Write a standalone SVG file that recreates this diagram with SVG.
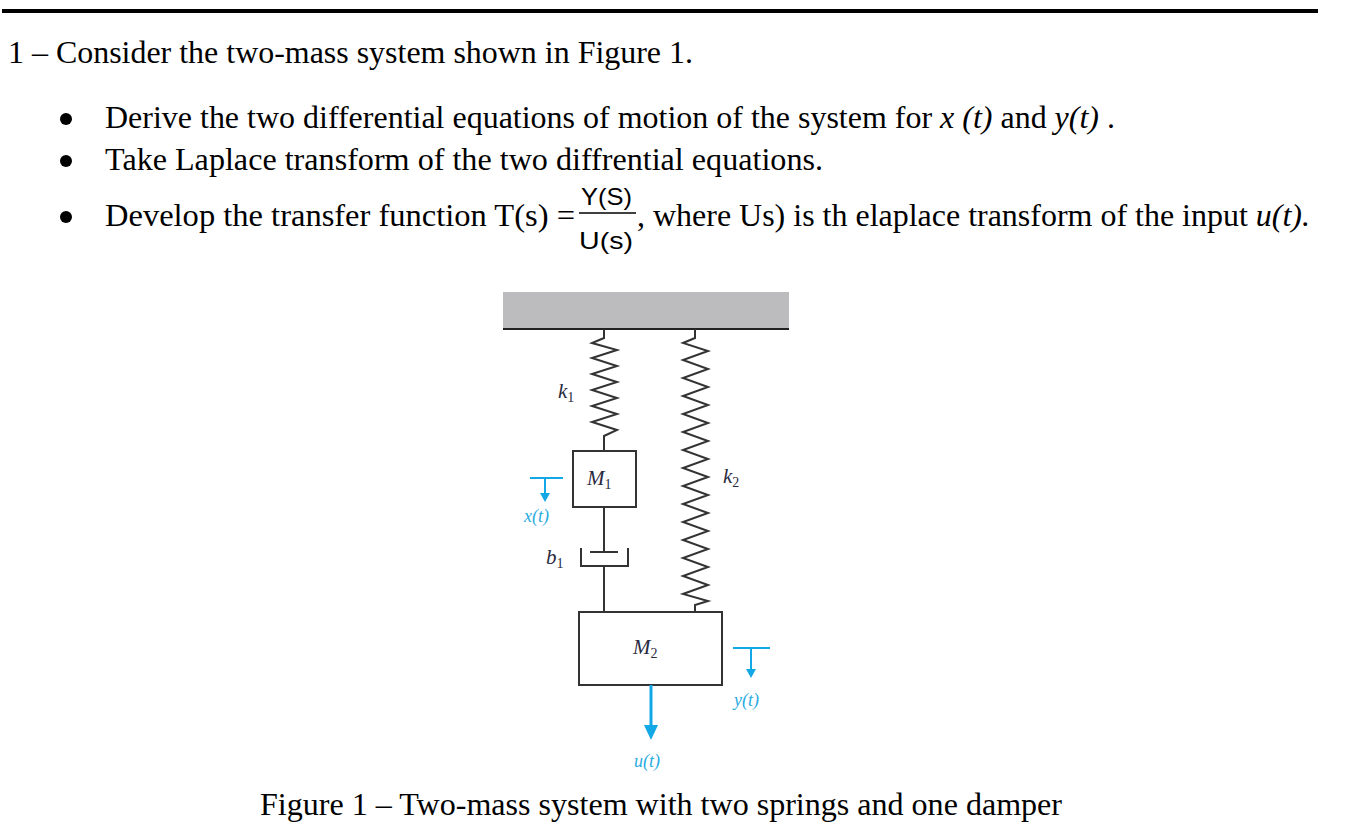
<svg xmlns="http://www.w3.org/2000/svg" width="1366" height="830" viewBox="0 0 1366 830">
<style>
.t{font-family:"Liberation Serif",serif;font-size:31px;fill:#000}
.s{font-family:"Liberation Sans",sans-serif;font-size:24px;fill:#000}
.lb{font-family:"Liberation Serif",serif;font-style:italic;font-size:21px;fill:#2a2a40}
.sub{font-style:normal;font-size:14px}
.bl{font-family:"Liberation Serif",serif;font-style:italic;font-size:18px;fill:#29abe2}
.ln{stroke:#333;stroke-width:2;fill:none}
.bu{stroke:#12a8e6;stroke-width:2;fill:none}
</style>
<rect x="2" y="9" width="1316" height="4" fill="#000"/>
<text class="t" x="8" y="63" textLength="685" lengthAdjust="spacingAndGlyphs">1 – Consider the two-mass system shown in Figure 1.</text>
<g class="t"><circle cx="66" cy="119" r="6"/><circle cx="66" cy="161" r="6"/><circle cx="66" cy="217" r="6"/></g>
<text class="t" x="105" y="128" textLength="1010" lengthAdjust="spacingAndGlyphs">Derive the two differential equations of motion of the system for <tspan font-style="italic">x (t)</tspan> and <tspan font-style="italic">y(t)</tspan> .</text>
<text class="t" x="105" y="170" textLength="718" lengthAdjust="spacingAndGlyphs">Take Laplace transform of the two diffrential equations.</text>
<text class="t" x="105" y="226" textLength="470" lengthAdjust="spacingAndGlyphs">Develop the transfer function T(s) =</text>
<text class="s" x="581" y="205" textLength="51" lengthAdjust="spacingAndGlyphs">Y(S)</text>
<line x1="579" y1="213" x2="636" y2="213" stroke="#000" stroke-width="1.5"/>
<text class="s" x="579" y="249" textLength="54" lengthAdjust="spacingAndGlyphs">U(s)</text>
<text class="t" x="637" y="226" textLength="673" lengthAdjust="spacingAndGlyphs">, where Us) is th elaplace transform of the input <tspan font-style="italic">u(t).</tspan></text>
<g id="ground"><rect x="503" y="292" width="286" height="37" fill="#bcbcbf"/><line x1="503" y1="329" x2="789" y2="329" stroke="#222" stroke-width="2"/></g>
<g id="k1"><path class="ln" d="M604,329 V338 L592,343 L617,350 L592,358 L617,366 L592,374 L617,382 L592,390 L617,398 L592,406 L617,414 L592,422 L617,430 L604,436 V451"/><text class="lb" x="558" y="398">k<tspan class="sub" dy="4">1</tspan></text></g>
<g id="k2"><path class="ln" d="M695,329 V338 L683,343 L708,351 L683,360 L708,369 L683,378 L708,387 L683,396 L708,405 L683,414 L708,423 L683,432 L708,441 L683,450 L708,459 L683,468 L708,477 L683,486 L708,495 L683,504 L708,513 L683,522 L708,531 L683,540 L708,549 L683,558 L708,567 L683,576 L708,585 L683,594 L708,601 L695,605 V612"/><text class="lb" x="723" y="483">k<tspan class="sub" dy="4">2</tspan></text></g>
<g id="M1"><rect class="ln" x="573" y="451" width="63" height="56" fill="#fff"/><text class="lb" x="587" y="485">M<tspan class="sub" dy="4">1</tspan></text></g>
<g id="b1"><path class="ln" d="M604,507 V552 M590,552 H618 M581,548 V566 H628 V548 M604,566 V612"/><text class="lb" x="546" y="564">b<tspan class="sub" dy="4">1</tspan></text></g>
<g id="M2"><rect class="ln" x="579" y="612" width="143" height="73" fill="#fff"/><text class="lb" x="633" y="654">M<tspan class="sub" dy="4">2</tspan></text></g>
<g id="connectors">
<path class="bu" d="M530,478 H563 M545,478 V496"/><path d="M540,493 L550,493 L545,502z" fill="#12a8e6"/>
<path class="bu" d="M733,648 H770 M751,648 V670"/><path d="M746,669 L756,669 L751,678z" fill="#12a8e6"/>
<path d="M651,685 V727" stroke="#12a8e6" stroke-width="3"/><path d="M644,725 L658,725 L651,740z" fill="#12a8e6"/>
</g>
<text class="bl" x="524" y="522">x(t)</text>
<text class="bl" x="734" y="706">y(t)</text>
<text class="bl" x="634" y="767">u(t)</text>
<text class="t" x="260" y="815" textLength="802" lengthAdjust="spacingAndGlyphs">Figure 1 – Two-mass system with two springs and one damper</text>
</svg>
